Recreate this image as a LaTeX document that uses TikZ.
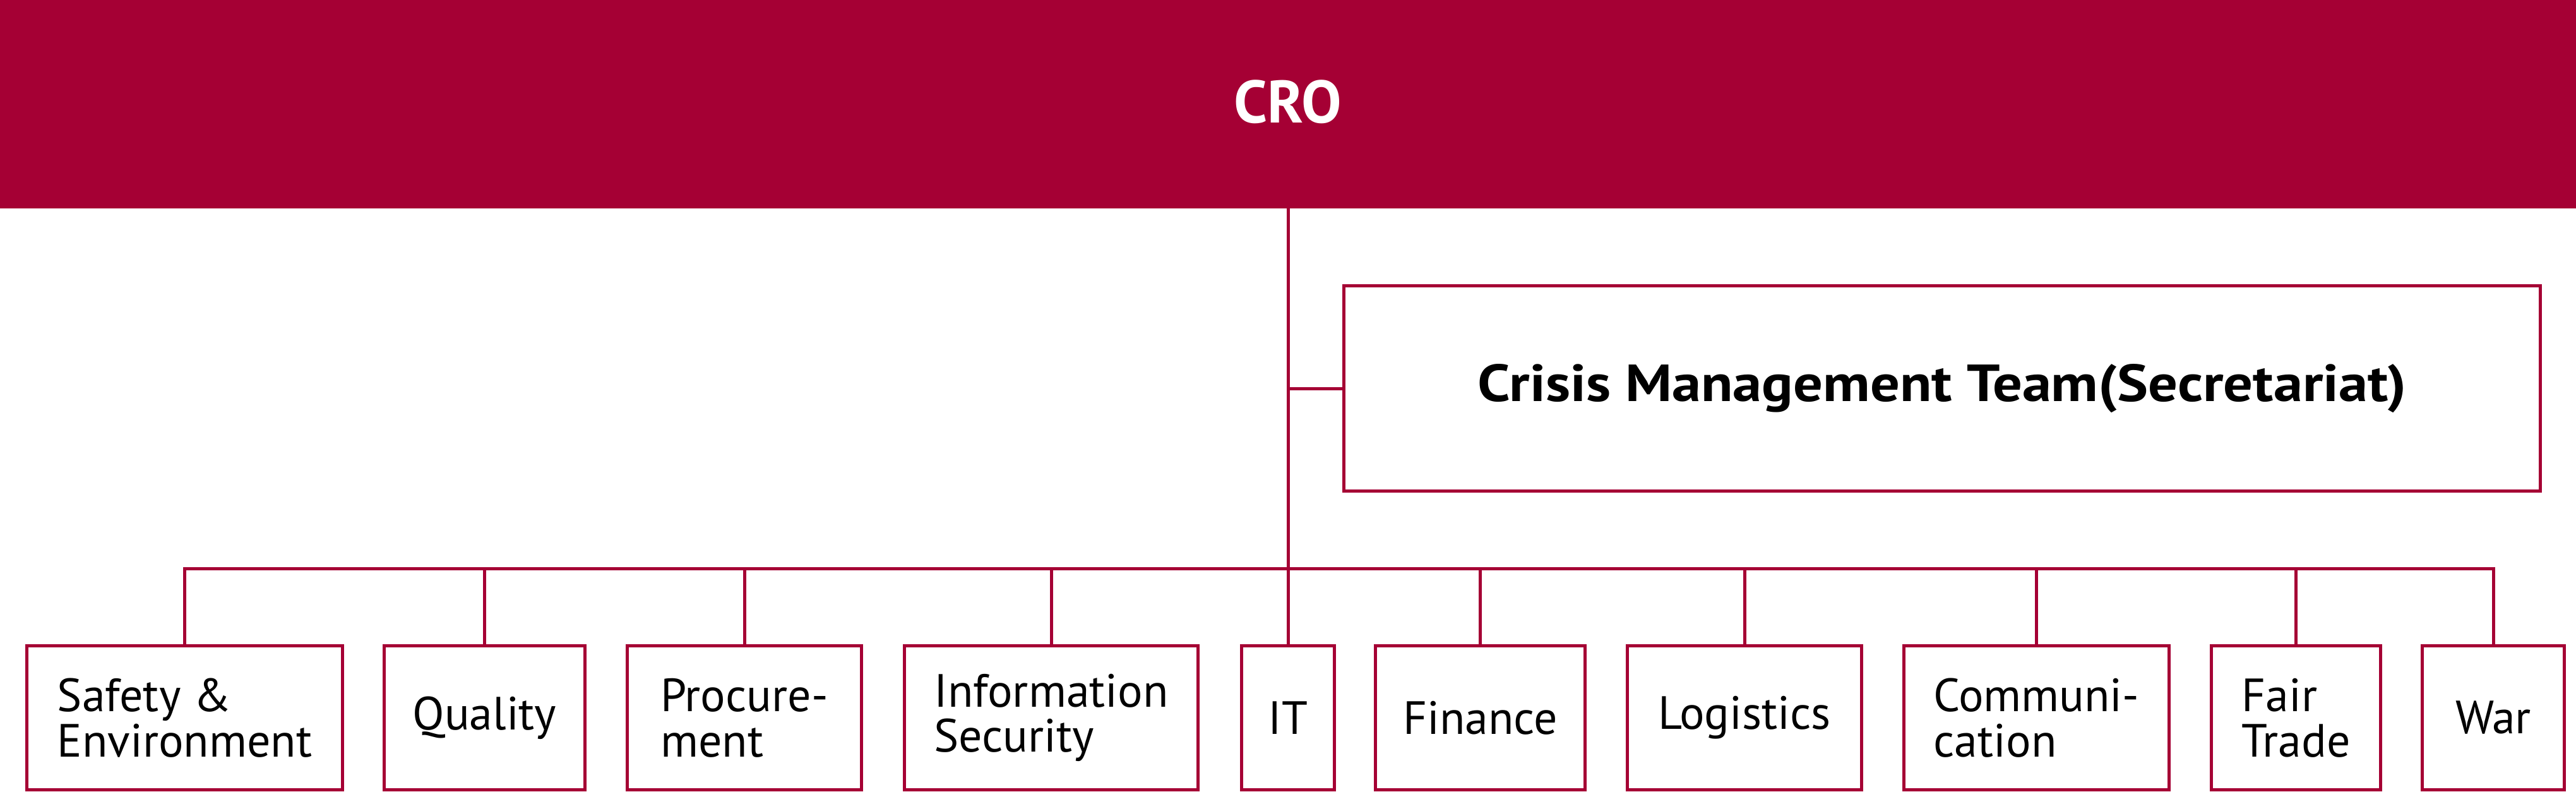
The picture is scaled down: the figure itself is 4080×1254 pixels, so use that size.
\documentclass[tikz,border=0pt]{standalone}
\usepackage{fontspec}
\setmainfont{PT Sans}
\definecolor{lgred}{RGB}{165,0,52}
\begin{document}
\begin{tikzpicture}[x=0.01cm,y=-0.01cm,inner sep=0pt,outer sep=0pt,
link/.style={draw=lgred,line width=0.05cm},
unitblock/.style={draw=lgred,line width=0.05cm,rectangle,minimum height=2.27cm,align=left,
  font=\fontsize{21}{20.4}\selectfont},
teamblock/.style={unitblock,minimum width=18.93cm,minimum height=3.25cm,
  font=\fontsize{23.5}{26}\selectfont\bfseries\addfontfeature{FakeStretch=1.12}}]
\useasboundingbox (0,0) rectangle (4080,1254);

\draw (2040,165) node[fill=lgred,minimum width=40.8cm,minimum height=3.3cm,text=white,
  text depth=0.08cm,font=\fontsize{27}{30}\selectfont\bfseries] (cro) {CRO};
\draw (3076,615) node[teamblock] (cmt) {Crisis Management Team(Secretariat)};

\draw (292.5,1136.5) node[unitblock,minimum width=5cm] (safety) {Safety \&\\Environment};
\draw (767.5,1136.5) node[unitblock,minimum width=3.18cm] (quality) {Quality};
\draw (1179,1136.5) node[unitblock,minimum width=3.71cm] (procure) {Procure-\\ment};
\draw (1665,1136.5) node[unitblock,minimum width=4.655cm] (infosec) {Information\\Security};
\draw (2040,1136.5) node[unitblock,minimum width=1.46cm] (it) {IT};
\draw (2344.5,1136.5) node[unitblock,minimum width=3.32cm] (finance) {Finance};
\draw (2763,1136.5) node[unitblock,minimum width=3.71cm] (logistics) {Logistics};
\draw (3225.5,1136.5) node[unitblock,minimum width=4.2cm] (comm) {Communi-\\cation};
\draw (3636.5,1136.5) node[unitblock,minimum width=2.68cm] (fairtrade) {Fair\\Trade};
\draw (3949,1136.5) node[unitblock,minimum width=2.25cm] (war) {War};

\coordinate (bus) at (0,900);
\draw[link] (cro.south) -- (it.north);
\draw[link] (cro.south |- cmt.west) -- (cmt.west);
\draw[link] (safety.north) |- (bus -| war.north) -- (war.north);
\foreach \n in {quality,procure,infosec,finance,logistics,comm,fairtrade}
  \draw[link] (\n.north) -- (\n.north |- bus);
\end{tikzpicture}
\end{document}
